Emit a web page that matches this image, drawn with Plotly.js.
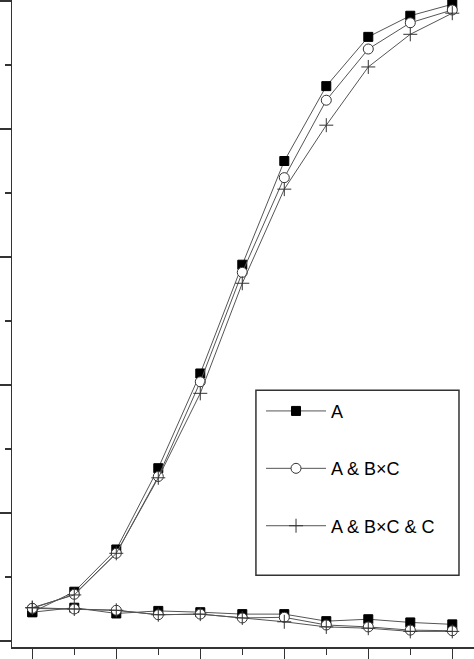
<!DOCTYPE html>
<html>
<head>
<meta charset="utf-8">
<script src="https://cdn.plot.ly/plotly-3.0.1.min.js"></script>
<style>
  html, body { margin: 0; padding: 0; background: #fff; }
  #chart { width: 474px; height: 659px; }
</style>
</head>
<body>
<div id="chart"></div>
<script>
// x positions (11 steps)
const xValues = [0, 1, 2, 3, 4, 5, 6, 7, 8, 9, 10];

// Series names
const seriesNames = ["A", "A & B\u00d7C", "A & B\u00d7C & C"];

// Rising group
const riseA    = [4.5, 7.7, 14.3, 27.0, 41.8, 58.8, 75.0, 86.7, 94.4, 97.7, 99.5];
const riseABC  = [5.1, 7.3, 13.7, 25.7, 40.5, 57.6, 72.4, 84.5, 92.5, 96.6, 98.6];
const riseABCC = [5.2, 7.2, 13.7, 25.5, 38.7, 55.9, 70.6, 80.6, 89.7, 94.8, 98.1];

// Falling group
const fallA    = [4.5, 5.2, 4.3, 4.7, 4.5, 4.2, 4.2, 3.1, 3.4, 2.9, 2.6];
const fallABC  = [5.1, 5.0, 4.8, 4.1, 4.2, 3.6, 3.7, 2.5, 2.2, 1.7, 1.6];
const fallABCC = [5.2, 5.0, 4.8, 4.1, 4.2, 3.6, 3.0, 2.2, 2.0, 1.5, 1.5];

const lineStyle = { color: "#555555", width: 1 };
const markerStyles = [
  { symbol: "square", size: 9, color: "#000000", line: { color: "#000000", width: 1 } },
  { symbol: "circle", size: 10, color: "#ffffff", line: { color: "#333333", width: 1 } },
  { symbol: "cross-thin", size: 10, color: "#333333", line: { color: "#333333", width: 1 } }
];

const riseData = [riseA, riseABC, riseABCC];
const fallData = [fallA, fallABC, fallABCC];
const groups = ["g1", "g2", "g3"];

const traces = [];
for (let i = 0; i < 3; i++) {
  traces.push({
    x: xValues, y: riseData[i], type: "scatter", mode: "lines+markers",
    name: seriesNames[i], legendgroup: groups[i], showlegend: true,
    line: lineStyle, marker: markerStyles[i], cliponaxis: false
  });
}
for (let i = 0; i < 3; i++) {
  traces.push({
    x: xValues, y: fallData[i], type: "scatter", mode: "lines+markers",
    name: seriesNames[i], legendgroup: groups[i], showlegend: false,
    line: lineStyle, marker: markerStyles[i], cliponaxis: false
  });
}
// keep draw order: squares, circles, crosses
const ordered = [traces[0], traces[3], traces[1], traces[4], traces[2], traces[5]];

const layout = {
  width: 474, height: 659,
  margin: { l: 12, r: 0, t: 0, b: 12, pad: 0 },
  paper_bgcolor: "#ffffff", plot_bgcolor: "#ffffff",
  font: { family: "Liberation Sans, Arial, sans-serif", size: 18, color: "#000" },
  showlegend: true,
  legend: {
    x: 0.539, y: 0.393, xanchor: "left", yanchor: "top",
    bgcolor: "rgba(0,0,0,0)", borderwidth: 0,
    tracegroupgap: 31, itemwidth: 60,
    font: { family: "Liberation Sans, Arial, sans-serif", size: 18, color: "#000" }
  },
  xaxis: {
    range: [-0.483, 10.517], showgrid: false, zeroline: false,
    showline: true, linecolor: "#333333", linewidth: 1.5,
    ticks: "outside", ticklen: 11, tickwidth: 1.5, tickcolor: "#333333",
    tick0: 0, dtick: 2, showticklabels: false,
    minor: { ticks: "outside", ticklen: 6, tickwidth: 1.5, tickcolor: "#333333", dtick: 1, tick0: 0, showgrid: false }
  },
  yaxis: {
    range: [-0.94, 100.16], showgrid: false, zeroline: false,
    showline: true, linecolor: "#333333", linewidth: 1.5,
    ticks: "outside", ticklen: 12, tickwidth: 1.5, tickcolor: "#333333",
    tick0: 0, dtick: 20, showticklabels: false,
    minor: { ticks: "outside", ticklen: 6, tickwidth: 1.5, tickcolor: "#333333", dtick: 10, tick0: 0, showgrid: false }
  },
  shapes: [{
    type: "rect", xref: "paper", yref: "paper",
    x0: 0.528, x1: 0.9675, y0: 0.111, y1: 0.397,
    line: { color: "#333333", width: 1.5 }, fillcolor: "rgba(0,0,0,0)", layer: "below"
  }]
};

Plotly.newPlot("chart", ordered, layout, { displayModeBar: false, staticPlot: true });
</script>
</body>
</html>
